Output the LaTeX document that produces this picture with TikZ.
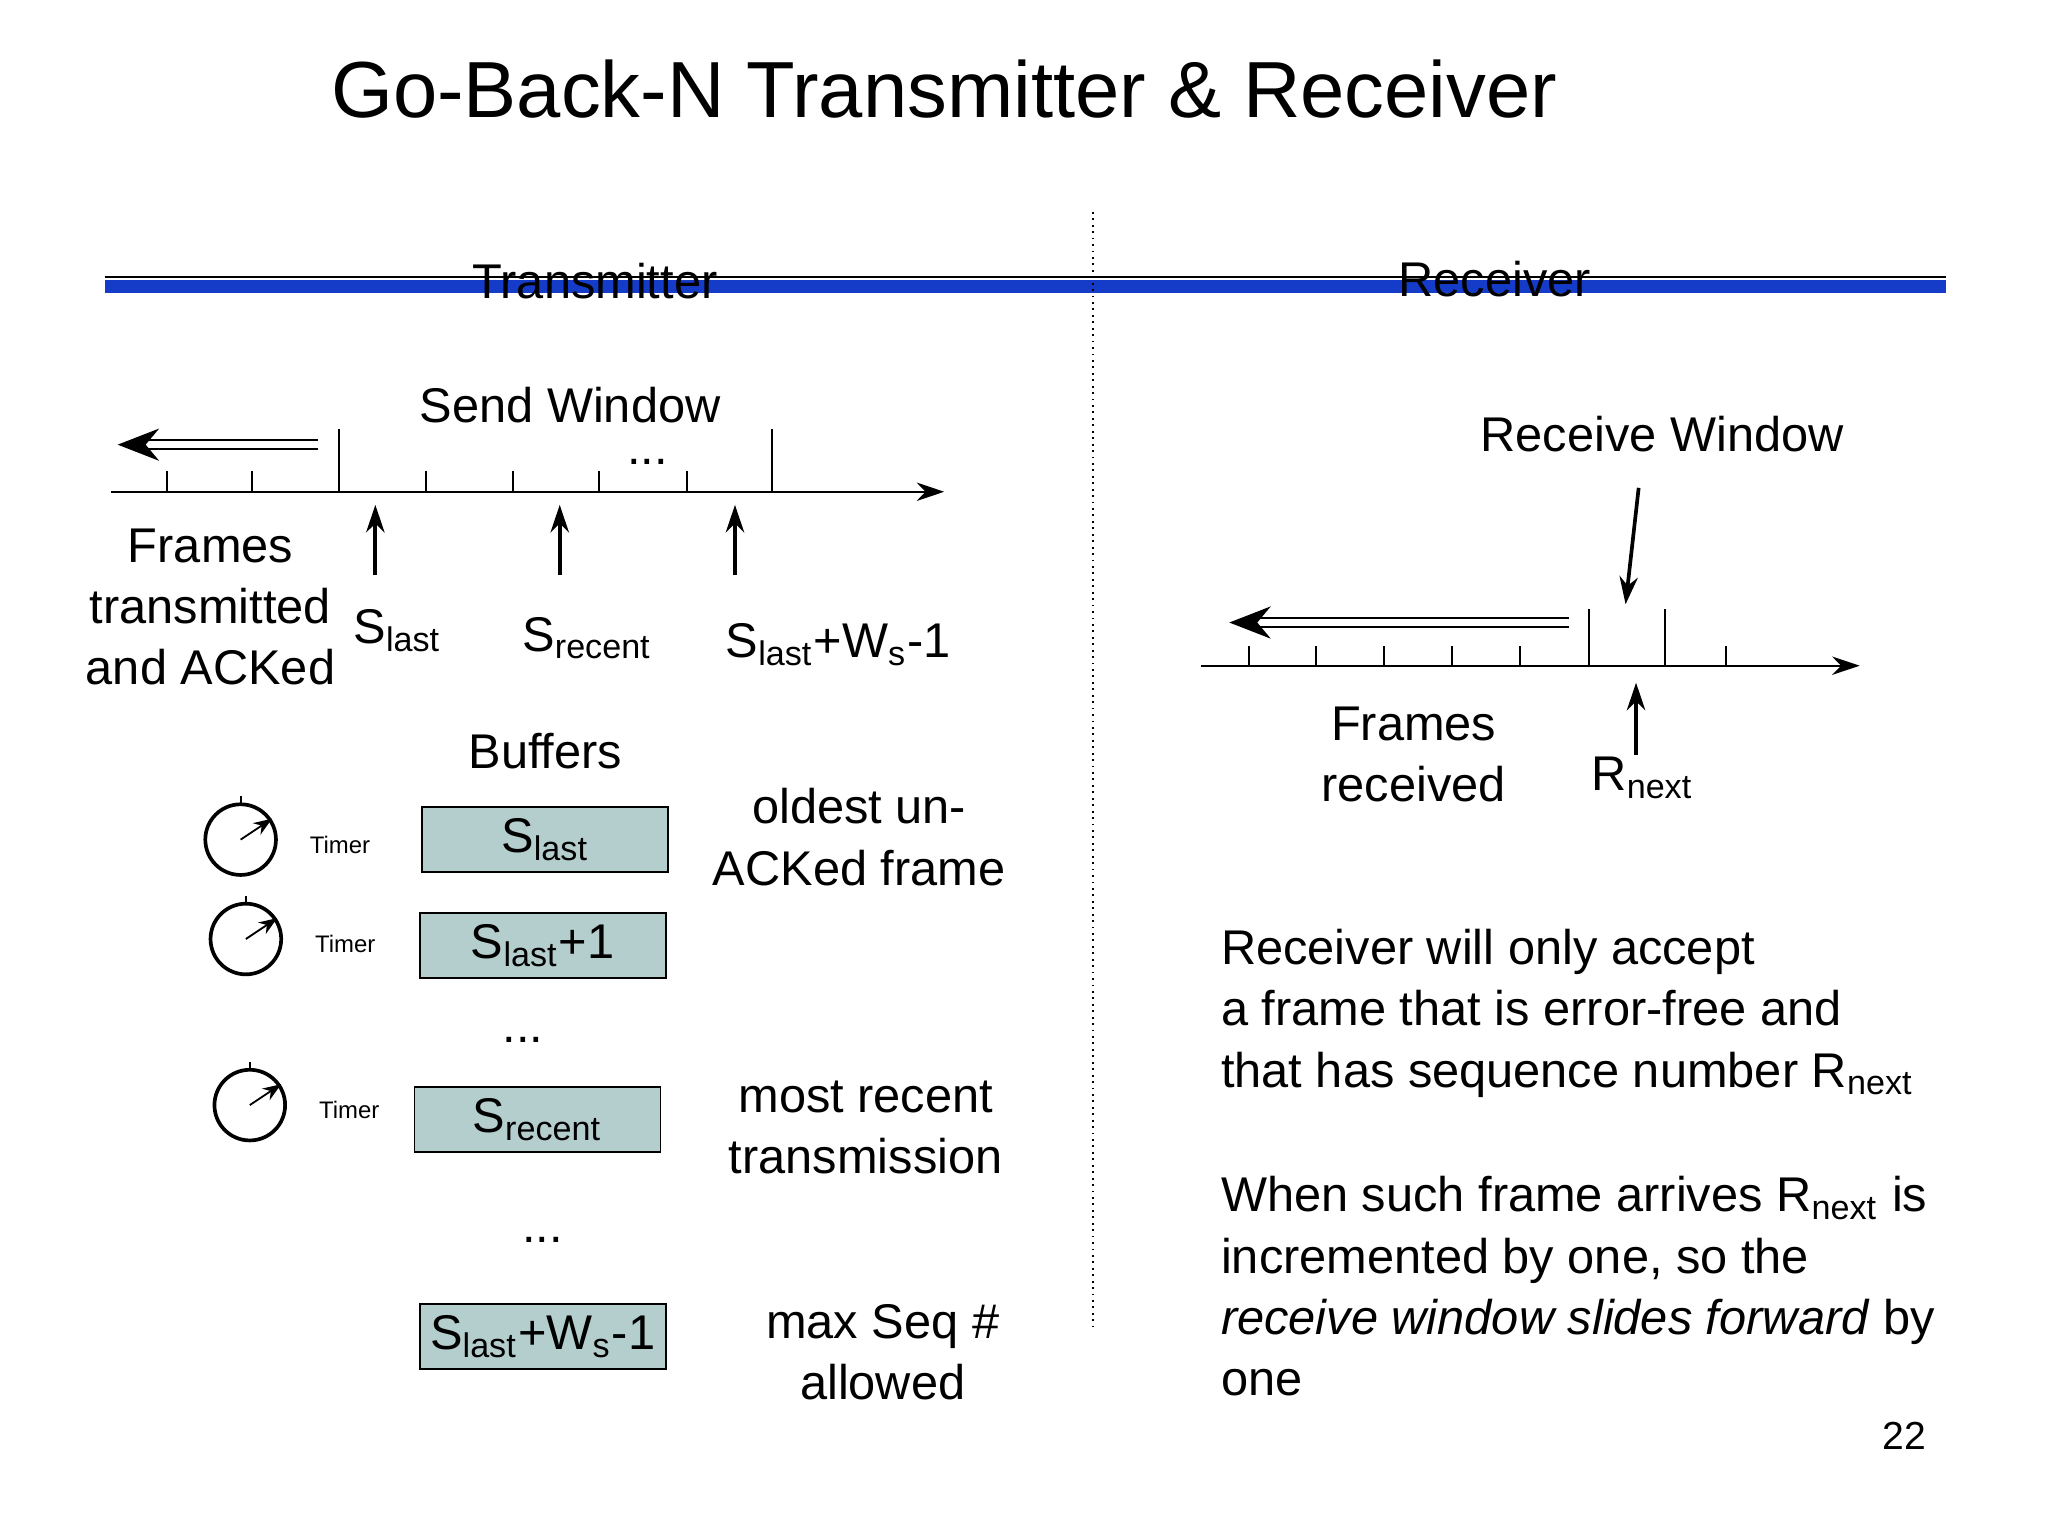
\documentclass[tikz,border=0pt]{standalone}
\usepackage{fontspec}
\setmainfont{Liberation Sans}
\usetikzlibrary{arrows.meta}
\definecolor{buf}{RGB}{180,205,205}
\definecolor{bl}{RGB}{20,60,200}
\begin{document}
\begin{tikzpicture}[x=0.01cm,y=-0.01cm,
 txt/.style={font=\fontsize{10.6}{13.3}\selectfont,align=center,inner sep=0},
 box/.style={draw,fill=buf,minimum width=1.88cm,minimum height=0.5cm,inner sep=0,font=\fontsize{10.6}{13}\selectfont},
 ar/.style={-{Stealth[length=6pt,width=4pt]},thick},
 dar/.style={double,double distance=1.6pt,-{Stealth[length=9pt,width=7pt]}},
 tm/.style={font=\fontsize{5.2}{6}\selectfont,inner sep=0}]
\useasboundingbox (0,0) rectangle (1566,1174.5);
\node[inner sep=0,font=\fontsize{17.3}{20}\selectfont] (title) at (722,68) {Go-Back-N Transmitter \& Receiver};
\draw (80,212) -- (1488,212);
\draw[bl,line width=3pt] (80,219) -- (1488,219);
\node[txt] (tx) at (455,215) {Transmitter};
\node[txt] (rx) at (1143,213) {Receiver};
\draw[densely dotted] (836,162) -- (836,1015);
% send window
\coordinate (sa) at (85,376); \coordinate (sb) at (722,376);
\draw[-{Stealth[length=6pt,width=4pt]}] (sa) -- (sb);
\foreach \x in {128,193,326,392,458,525} \draw (\x,360) -- (\x,376);
\foreach \x in {259,590} \draw (\x,328) -- (\x,376);
\node[txt] (dots1) at (495,353) {...};
\coordinate (da) at (243,340); \coordinate (db) at (90,340);
\draw[dar] (da) -- (db);
\node[txt] (sw) at (436,310) {Send Window};
\foreach \x in {287,428,562} \draw[ar] (\x,440) -- (\x,386);
\node[txt] (ft) at (161,464) {Frames\\transmitted\\and ACKed};
\node[txt] (l1) at (304,482) {S\textsubscript{last}};
\node[txt] (l2) at (449,488) {S\textsubscript{recent}};
\node[txt] (l3) at (641,493) {S\textsubscript{last}+W\textsubscript{s}-1};
\node[txt] (bufs) at (417,574) {Buffers};
\node[box] (b1) at (417,642) {S\textsubscript{last}};
\node[box] (b2) at (415,723) {S\textsubscript{last}+1};
\node[txt] (dots2) at (400,795) {...};
\node[box] (b3) at (411,856) {S\textsubscript{recent}};
\node[txt] (dots3) at (415,948) {...};
\node[box] (b4) at (415,1022) {S\textsubscript{last}+W\textsubscript{s}-1};
\foreach \cx/\cy/\tx [count=\i] in {184/642/260,188/718/264,191/845/267}{
 \node[draw,circle,minimum size=0.54cm,inner sep=0,thick] (c\i) at (\cx,\cy) {};
 \draw (\cx,\cy-27) -- (\cx,\cy-33);
 \draw[-{Stealth[length=4pt,width=3pt]}] (\cx,\cy) -- ++(24,-16);
 \node[tm] (t\i) at (\tx,\cy+4) {Timer};
}
\node[txt] (o1) at (657,640) {oldest un-\\ACKed frame};
\node[txt] (o2) at (662,862) {most recent\\transmission};
\node[txt] (o3) at (675,1034) {max Seq \#\\allowed};
% receiver
\coordinate (ra) at (918,509); \coordinate (rb) at (1422,509);
\draw[-{Stealth[length=6pt,width=4pt]}] (ra) -- (rb);
\foreach \x in {955,1006,1058,1110,1162,1320} \draw (\x,494) -- (\x,509);
\foreach \x in {1215,1273} \draw (\x,466) -- (\x,509);
\coordinate (rda) at (1200,476); \coordinate (rdb) at (940,476);
\draw[dar] (rda) -- (rdb);
\node[txt] (rw) at (1271,332) {Receive Window};
\coordinate (rwa) at (1253,373); \coordinate (rwb) at (1243,462);
\draw[ar] (rwa) -- (rwb);
\draw[ar] (1251,577) -- (1251,522);
\node[txt] (fr) at (1081,577) {Frames\\received};
\node[txt] (rn) at (1256,595) {R\textsubscript{next}};
\node[txt,align=left,anchor=north west] (p1) at (933,710) {Receiver will only accept\\a frame that is error-free and\\that has sequence number R\textsubscript{next}};
\node[txt,align=left,anchor=north west] (p2) at (933,899) {When such frame arrives R\textsubscript{next} is\\incremented by one, so the\\\textit{receive window slides forward} by\\one};
\node[inner sep=0,font=\fontsize{8.5}{10}\selectfont] (pg) at (1456,1098) {22};
\end{tikzpicture}
\end{document}
